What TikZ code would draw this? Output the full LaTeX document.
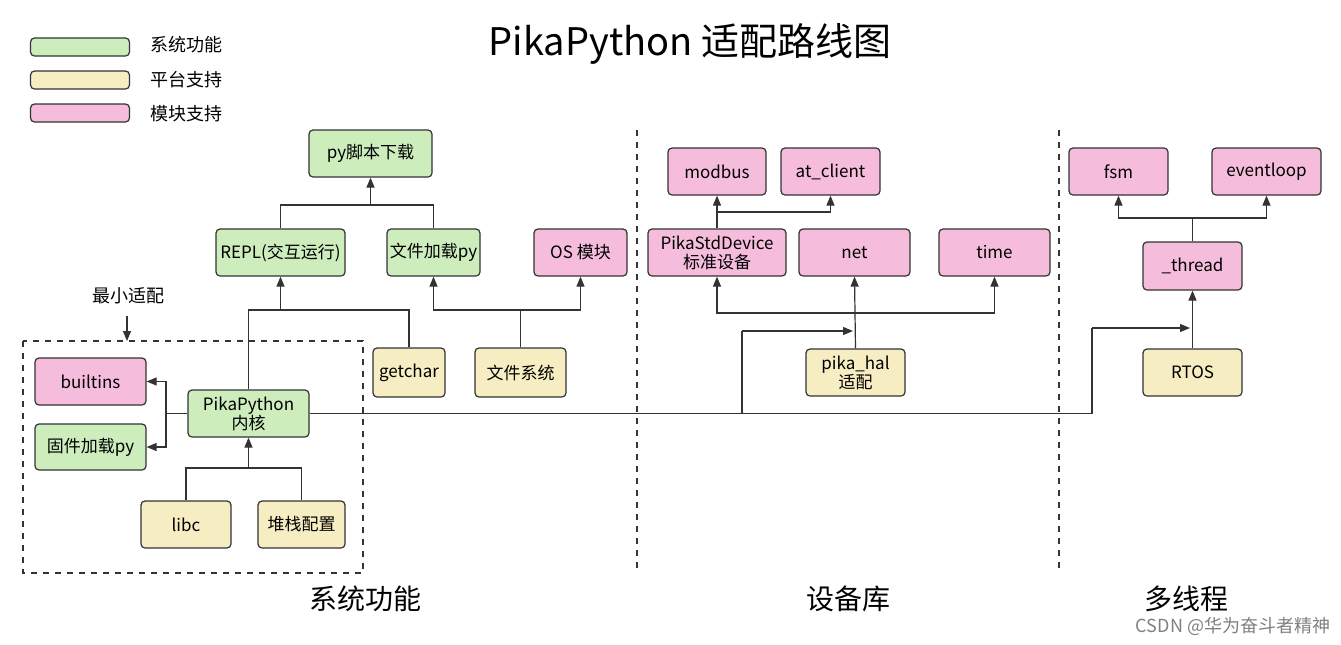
\documentclass[tikz,border=0pt]{standalone}
\usepackage{fontspec}
\setmainfont{Noto Sans CJK SC}
\usetikzlibrary{arrows.meta}
\definecolor{sysgreen}{HTML}{CDEDBD}
\definecolor{plattan}{HTML}{F7EDC2}
\definecolor{modpink}{HTML}{F5BCDC}
\definecolor{edgegray}{HTML}{333333}
\tikzset{
  box/.style={draw=edgegray,rounded corners=2pt,line width=0.6pt,align=center,inner sep=0pt,font=\fontsize{8.5}{9.5}\selectfont},
  sys/.style={box,fill=sysgreen},
  plat/.style={box,fill=plattan},
  mod/.style={box,fill=modpink},
  link/.style={draw=edgegray,line width=0.6pt},
  arr/.style={link,-{Triangle[length=5pt,width=4pt]}},
}
\newcommand{\bx}[6]{\node[#1,minimum width=#4*0.5pt,minimum height=#5*0.5pt] (#2) at (#3) {#6};}
\begin{document}
\begin{tikzpicture}[x=0.5pt,y=-0.5pt]
\useasboundingbox (0,0) rectangle (1341,644);
% legend and title
\bx{sys}{lgA}{80,47}{99}{18}{}
\bx{plat}{lgB}{80,80}{99}{18}{}
\bx{mod}{lgC}{80,113}{99}{18}{}
\node[anchor=west,font=\fontsize{9}{10}\selectfont] (lgtA) at (143,45) {系统功能};
\node[anchor=west,font=\fontsize{9}{10}\selectfont] (lgtB) at (143,80) {平台支持};
\node[anchor=west,font=\fontsize{9}{10}\selectfont] (lgtC) at (143,114) {模块支持};
\node[font=\fontsize{19}{22}\selectfont] (title) at (690,44) {PikaPython 适配路线图};
% section separators
\draw[dashed,link] (637,130) -- (637,572);
\draw[dashed,link] (1059,130) -- (1059,572);
\node[font=\fontsize{14}{16}\selectfont] (secA) at (365,599) {系统功能};
\node[font=\fontsize{14}{16}\selectfont] (secB) at (848,599) {设备库};
\node[font=\fontsize{14}{16}\selectfont] (secC) at (1186,599) {多线程};
\node[font=\fontsize{9}{10}\selectfont,text=gray] (mark) at (1233,626) {CSDN @华为奋斗者精神};
% system part
\draw[dashed,link] (23,341) rectangle (363,573);
\node[font=\fontsize{9}{10}\selectfont] (minfit) at (128,296) {最小适配};
\coordinate (minend) at (127,341);
\draw[arr] (127,316) -- (minend);
\bx{sys}{pydl}{370.5,153.5}{123}{47}{py脚本下载}
\bx{sys}{repl}{280.5,252.5}{129}{47}{REPL(交互运行)}
\bx{sys}{fload}{433.5,252.5}{93}{47}{文件加载py}
\bx{mod}{osmod}{580.5,252.5}{93}{47}{OS 模块}
\bx{plat}{getc}{409,372.5}{72}{49}{getchar}
\bx{plat}{fsys}{520.5,372.5}{91}{49}{文件系统}
\bx{mod}{bltin}{90.5,381.5}{111}{47}{builtins}
\bx{sys}{fwload}{90.5,447}{111}{46}{固件加载py}
\bx{sys}{core}{248.5,413.5}{121}{47}{PikaPython\\内核}
\bx{plat}{libc}{186,524.5}{90}{47}{libc}
\bx{plat}{stack}{301.5,524.5}{87}{47}{堆栈配置}
\draw[link] (repl.north) |- (370.5,205) -| (fload.north);
\draw[arr] (370.5,205) -- (pydl.south);
\draw[link] (core.north) |- (280.5,310) -| (getc.north);
\draw[arr] (280.5,310) -- (repl.south);
\draw[link] (fsys.north) -- (520.5,310);
\draw[arr] (520.5,310) -| (fload.south);
\draw[arr] (520.5,310) -| (osmod.south);
\draw[link] (core.west) -- (166,413.5);
\draw[arr] (166,413.5) |- (bltin.east);
\draw[arr] (166,413.5) |- (fwload.east);
\draw[link] (libc.north) |- (248.5,468) -| (stack.north);
\draw[arr] (248.5,468) -- (core.south);
% device part
\bx{mod}{modbus}{717,171.5}{98}{47}{modbus}
\bx{mod}{atcli}{830.5,171.5}{99}{47}{at\_client}
\bx{mod}{stddev}{717,252.5}{138}{47}{PikaStdDevice\\标准设备}
\bx{mod}{net}{854.5,252.5}{111}{47}{net}
\bx{mod}{time}{994.5,252.5}{111}{47}{time}
\bx{plat}{hal}{855.5,372.5}{99}{47}{pika\_hal\\适配}
\draw[arr] (stddev.north) -- (modbus.south);
\draw[arr] (717,212) -| (atcli.south);
\draw[arr] (hal.north) -- (net.south);
\draw[arr] (855.5,313) -| (stddev.south);
\draw[arr] (855.5,313) -| (time.south);
\draw[link] (core.east) -- (742,413.5) |- (742,331);
\draw[arr] (742,331) -- (853,331);
% thread part
\bx{mod}{fsm}{1118.5,171.5}{99}{47}{fsm}
\bx{mod}{evloop}{1266.5,171.5}{109}{47}{eventloop}
\bx{mod}{thread}{1192.5,266}{99}{48}{\_thread}
\bx{plat}{rtos}{1192.5,372.5}{99}{47}{RTOS}
\draw[arr] (rtos.north) -- (thread.south);
\draw[link] (thread.north) -- (1192.5,218);
\draw[arr] (1192.5,218) -| (fsm.south);
\draw[arr] (1192.5,218) -| (evloop.south);
\draw[link] (742,413.5) -- (1092,413.5) -- (1092,328);
\draw[arr] (1092,328) -- (1190,328);
\end{tikzpicture}
\end{document}
